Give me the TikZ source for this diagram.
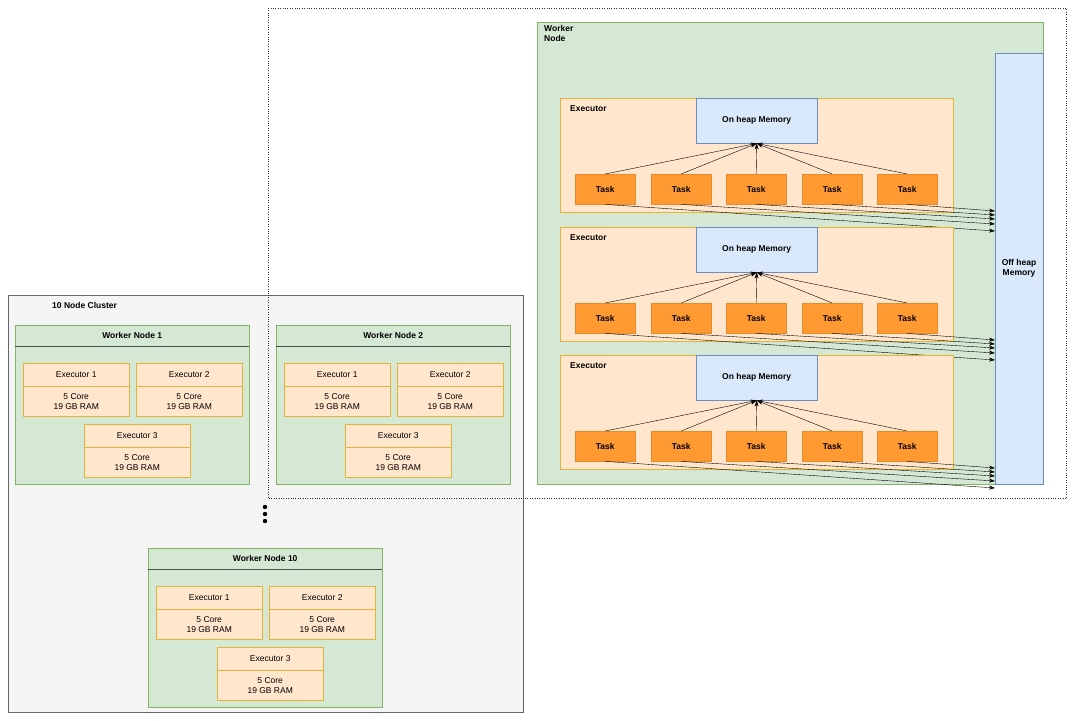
\documentclass[tikz,border=0pt]{standalone}
\usepackage{fontspec}
\setmainfont{Liberation Sans}
\usetikzlibrary{arrows.meta,calc}

\definecolor{nodegreen}{HTML}{D5E8D4}
\definecolor{nodegreenline}{HTML}{82B366}
\definecolor{execfill}{HTML}{FFE6CC}
\definecolor{execline}{HTML}{D79B00}
\definecolor{execline2}{HTML}{E6B33A}
\definecolor{memfill}{HTML}{DAE8FC}
\definecolor{memline}{HTML}{6C8EBF}
\definecolor{taskfill}{HTML}{FF9A33}
\definecolor{clusterfill}{HTML}{F5F5F5}

\tikzset{
    box/.style={draw, inner sep=0pt, anchor=north west},
    green box/.style={box, fill=nodegreen, draw=nodegreenline},
    exec box/.style={box, fill=execfill, draw=execline2},
    mem box/.style={box, fill=memfill, draw=memline, font=\fontsize{8.5}{10}\selectfont\bfseries},
    task box/.style={box, fill=taskfill, draw=taskfill!90!black, font=\fontsize{8.5}{10}\selectfont\bfseries},
    small text/.style={font=\fontsize{8.5}{10.5}\selectfont, align=center, inner sep=0pt},
    bold text/.style={font=\fontsize{8.5}{10}\selectfont\bfseries, align=left, inner sep=0pt},
    flow/.style={-{Stealth[length=6pt,width=4pt]}, thin},
}

% executor with core and ram in the cluster
\newcommand{\clusterexec}[4]{%
    \node[exec box, minimum width=106pt, minimum height=53pt] (#1) at (#2,#3) {};
    \draw[execline2] ($(#1.north west)+(0,-23pt)$) -- ($(#1.north east)+(0,-23pt)$);
    \node[small text] (#1-name) at ($(#1.north)+(0,-11.5pt)$) {#4};
    \node[small text] (#1-res) at ($(#1.south)+(0,15pt)$) {5 Core\\19 GB RAM};
}

% worker node of the cluster
\newcommand{\clusternode}[4]{%
    \node[green box, minimum width=234pt, minimum height=159pt] (#1) at (#2,#3) {};
    \draw[black!70, thick] ($(#1.north west)+(0,-21pt)$) -- ($(#1.north east)+(0,-21pt)$);
    \node[bold text] (#1-title) at ($(#1.north)+(0,-10.5pt)$) {#4};
    \clusterexec{#1-e1}{#2+8}{#3+38}{Executor 1}
    \clusterexec{#1-e2}{#2+121}{#3+38}{Executor 2}
    \clusterexec{#1-e3}{#2+69}{#3+99}{Executor 3}
}

\begin{document}
\begin{tikzpicture}[x=1pt, y=-1pt]

    \useasboundingbox (0,0) rectangle (1075,720);

    % Zoomed area
    \node[box, dotted, draw=black!80, minimum width=798pt, minimum height=490pt] (zoom) at (268,8) {};

    % Worker node detail
    \node[green box, minimum width=506pt, minimum height=462pt] (worker) at (537,22) {};
    \node[bold text, anchor=north west] (worker-title) at (544,25) {Worker\\Node};

    % Off heap memory
    \node[box, fill=memfill, draw=memline, minimum width=48pt, minimum height=431pt] (offheap) at (995,53) {};
    \node[bold text, align=center] (offheap-title) at (1019,268) {Off heap\\Memory};

    % Executors with tasks
    \foreach \e/\y in {1/98, 2/227, 3/355} {
        \node[exec box, draw=execline2, minimum width=393pt, minimum height=114pt] (exec-\e) at (560,\y) {};
        \node[bold text, anchor=north west] (exec-\e-title) at (570,\y+7) {Executor};
        \node[mem box, minimum width=121pt, minimum height=45pt] (onheap-\e) at (696,\y) {On heap Memory};
        \foreach \t/\x/\off in {1/575/20, 2/651/13, 3/726/8, 4/802/4, 5/877/0} {
            \node[task box, minimum width=60pt, minimum height=30pt] (task-\e-\t) at (\x,\y+76) {Task};
            \coordinate (off-\e-\t) at (995,\y+113+\off);
            \draw[flow] (task-\e-\t.north) -- (onheap-\e.south);
            \draw[flow] (task-\e-\t.south) -- (off-\e-\t);
        }
    }

    % Cluster
    \node[box, fill=clusterfill, draw=black!60, minimum width=515pt, minimum height=417pt] (cluster) at (8,295) {};
    \node[bold text, anchor=north west] (cluster-title) at (52,302) {10 Node Cluster};

    \clusternode{wn1}{15}{325}{Worker Node 1}
    \clusternode{wn2}{276}{325}{Worker Node 2}
    \clusternode{wn10}{148}{548}{Worker Node 10}

    % More nodes
    \foreach \d in {507, 514, 521} {
        \fill (265,\d) circle (2.2pt);
    }

    % Dotted frame on top of the cluster
    \draw[dotted, black!80] (268,295) -- (268,498) -- (523,498);

\end{tikzpicture}
\end{document}
